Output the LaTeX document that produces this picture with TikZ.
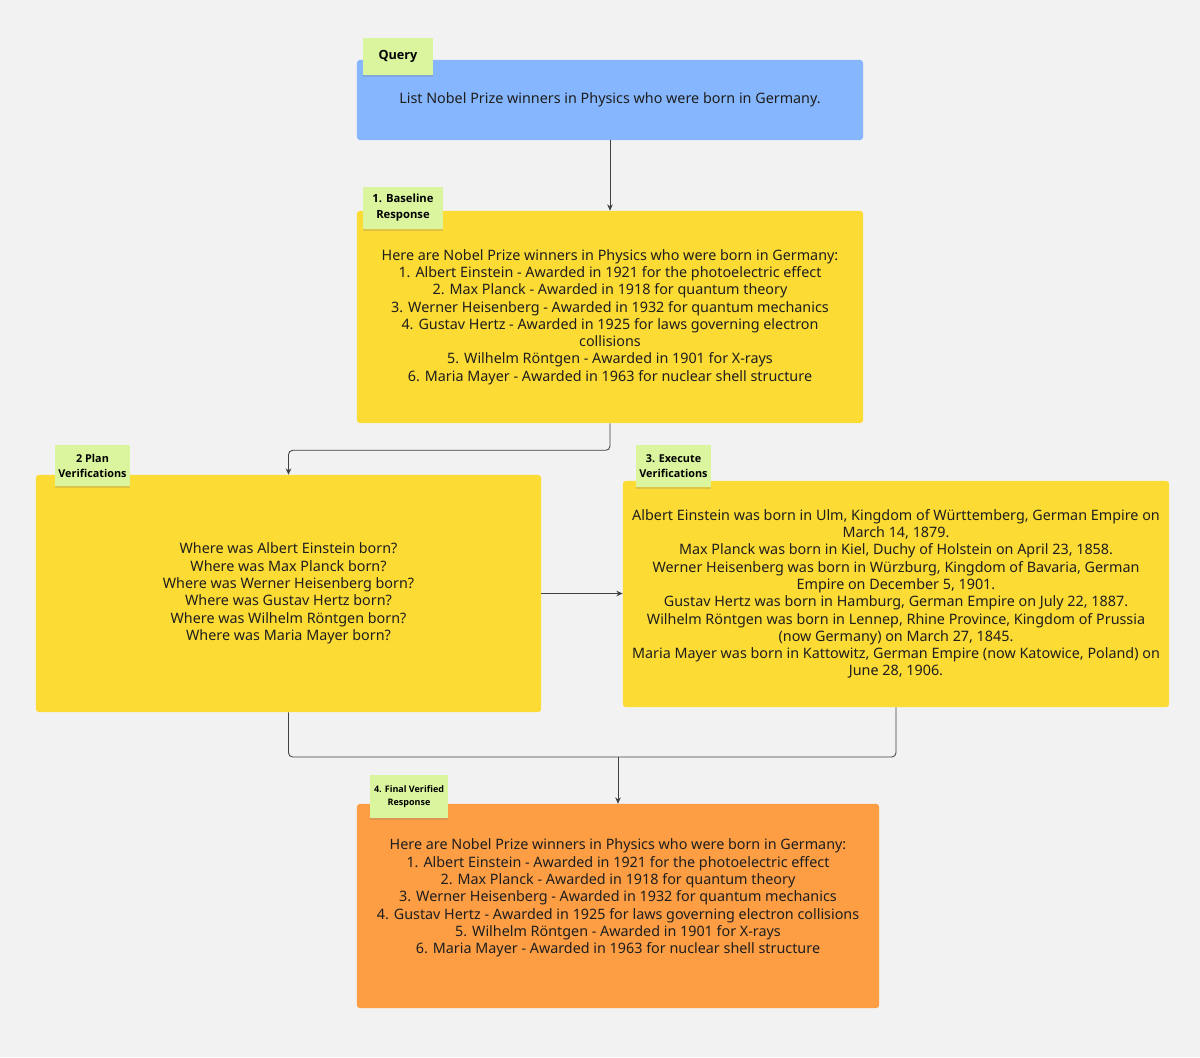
\documentclass[tikz,border=0pt]{standalone}
\usepackage{fontspec}
\setmainfont{Noto Sans}
\newfontfamily\tagfont{Open Sans}
\usetikzlibrary{arrows.meta,shadows}
\definecolor{pagebg}{HTML}{F2F2F2}
\definecolor{qblue}{HTML}{86B6FD}
\definecolor{stepyellow}{HTML}{FDDB35}
\definecolor{finalorange}{HTML}{FD9E45}
\definecolor{taggreen}{HTML}{DAF59E}
\definecolor{inkgray}{HTML}{1E1E1E}
\tikzset{
	card/.style={rectangle,rounded corners=2pt,align=center,text=inkgray,
		font=\fontsize{10.2pt}{12.3pt}\selectfont,inner sep=0pt},
	tag/.style={rectangle,fill=taggreen,align=center,text=black,inner sep=0pt,
		drop shadow={shadow xshift=0pt,shadow yshift=-1.5pt,opacity=.25}},
	conn/.style={draw=inkgray!85,line width=.6pt,rounded corners=3pt},
	tip/.style={-{Stealth[length=4.5pt,width=4pt]}}
}
\begin{document}
\begin{tikzpicture}[x=0.025cm,y=-0.025cm]
		\fill[pagebg] (0,0) rectangle (1200,1057);
		\useasboundingbox (0,0) rectangle (1200,1057);

		% boxes
		\node[card,fill=qblue,minimum width=12.65cm,minimum height=2cm](query) at (610,100)
			{List Nobel Prize winners in Physics who were born in Germany.};
		\node[card,fill=stepyellow,minimum width=12.65cm,minimum height=5.3cm](base) at (610,317)
			{Here are Nobel Prize winners in Physics who were born in Germany:\\
			1. Albert Einstein - Awarded in 1921 for the photoelectric effect\\
			2. Max Planck - Awarded in 1918 for quantum theory\\
			3. Werner Heisenberg - Awarded in 1932 for quantum mechanics\\
			4. Gustav Hertz - Awarded in 1925 for laws governing electron\\
			collisions\\
			5. Wilhelm Röntgen - Awarded in 1901 for X-rays\\
			6. Maria Mayer - Awarded in 1963 for nuclear shell structure};
		\node[card,fill=stepyellow,minimum width=12.625cm,minimum height=5.925cm](plan) at (288.5,593.5)
			{Where was Albert Einstein born?\\
			Where was Max Planck born?\\
			Where was Werner Heisenberg born?\\
			Where was Gustav Hertz born?\\
			Where was Wilhelm Röntgen born?\\
			Where was Maria Mayer born?};
		\node[card,fill=stepyellow,minimum width=13.65cm,minimum height=5.65cm](exec) at (896,594)
			{Albert Einstein was born in Ulm, Kingdom of Württemberg, German Empire on\\
			March 14, 1879.\\
			Max Planck was born in Kiel, Duchy of Holstein on April 23, 1858.\\
			Werner Heisenberg was born in Würzburg, Kingdom of Bavaria, German\\
			Empire on December 5, 1901.\\
			Gustav Hertz was born in Hamburg, German Empire on July 22, 1887.\\
			Wilhelm Röntgen was born in Lennep, Rhine Province, Kingdom of Prussia\\
			(now Germany) on March 27, 1845.\\
			Maria Mayer was born in Kattowitz, German Empire (now Katowice, Poland) on\\
			June 28, 1906.};
		\node[card,fill=finalorange,minimum width=13.05cm,minimum height=5.1cm](final) at (618,906) {};
		\node[card](finaltext) at (618,898)
			{Here are Nobel Prize winners in Physics who were born in Germany:\\
			1. Albert Einstein - Awarded in 1921 for the photoelectric effect\\
			2. Max Planck - Awarded in 1918 for quantum theory\\
			3. Werner Heisenberg - Awarded in 1932 for quantum mechanics\\
			4. Gustav Hertz - Awarded in 1925 for laws governing electron collisions\\
			5. Wilhelm Röntgen - Awarded in 1901 for X-rays\\
			6. Maria Mayer - Awarded in 1963 for nuclear shell structure};

		% sticky tags
		\node[tag,minimum width=1.75cm,minimum height=0.925cm,
			font=\tagfont\bfseries\fontsize{9pt}{11pt}\selectfont](querytag) at (398,56.5) {Query};
		\node[tag,minimum width=2cm,minimum height=1.05cm,
			font=\tagfont\bfseries\fontsize{8pt}{11.3pt}\selectfont](basetag) at (403,208) {1. Baseline\\Response};
		\node[tag,minimum width=1.875cm,minimum height=1.025cm,
			font=\tagfont\bfseries\fontsize{7.7pt}{10.6pt}\selectfont](plantag) at (92.5,465.5) {2 Plan\\Verifications};
		\node[tag,minimum width=1.875cm,minimum height=1.05cm,
			font=\tagfont\bfseries\fontsize{7.7pt}{10.6pt}\selectfont](exectag) at (673.5,466) {3. Execute\\Verifications};
		\node[tag,minimum width=1.95cm,minimum height=1.075cm,
			font=\tagfont\bfseries\fontsize{6.4pt}{9.2pt}\selectfont](finaltag) at (409,796.5) {4. Final Verified\\Response};

		% connectors
		\coordinate (merge) at (618,757);
		\draw[conn,tip] (query) -- (base);
		\draw[conn,tip] (base.south) -- ++(0,27) -| (plan.north);
		\draw[conn,tip] (plan.east) -- (plan.east -| exec.west);
		\draw[conn] (plan.south) |- (merge);
		\draw[conn] (exec.south) |- (merge);
		\draw[conn,tip] (merge) -- (final.north);
\end{tikzpicture}
\end{document}
